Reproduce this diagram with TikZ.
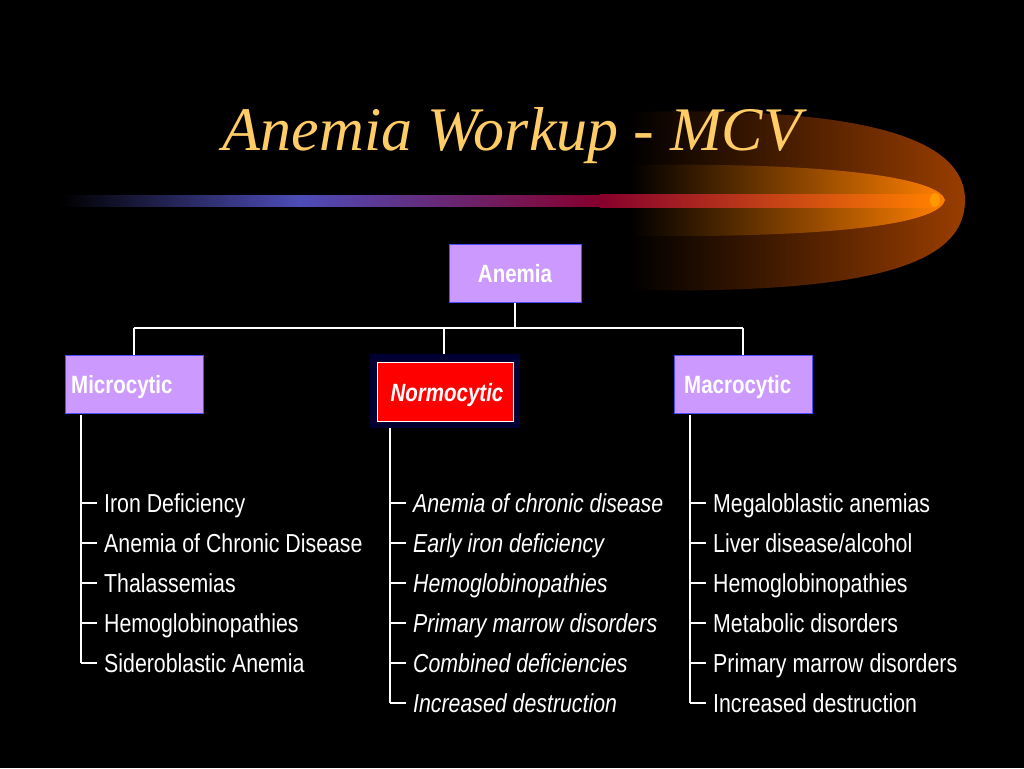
\documentclass[tikz,border=0pt]{standalone}
\usepackage{fontspec}
\setmainfont{Liberation Serif}
\newfontfamily\narrow[FakeStretch=0.82]{Liberation Sans}
\usetikzlibrary{fadings}
\definecolor{boxpurple}{HTML}{CC99FF}
\definecolor{gold}{HTML}{FFCC66}
\begin{document}
\begin{tikzpicture}[x=1pt,y=-1pt,
  box/.style={draw=blue!70!white,line width=1pt,fill=boxpurple,inner sep=0pt},
  lbl/.style={text=white,font=\narrow\bfseries\fontsize{25}{30}\selectfont,inner sep=0pt,anchor=base west},
  item/.style={anchor=base west,text=white,inner sep=0pt},
  conn/.style={draw=white,line width=1.3pt}]
\fill[black] (0,0) rectangle (1024,768);
\useasboundingbox (0,0) rectangle (1024,768);
% glow
\shade[left color=black,right color=orange!80!red!60!black] (630,112) .. controls (900,105) and (965,150) .. (965,200) .. controls (965,255) and (900,295) .. (630,290) -- cycle;
\shade[left color=black,right color=orange] (630,165) .. controls (850,162) and (940,180) .. (945,200) .. controls (940,222) and (850,238) .. (630,236) -- cycle;
\shade[left color=black,right color=blue!60!black!70] (60,195) rectangle (300,206);
\shade[left color=blue!60!black!70,right color=purple!70!black] (300,195) rectangle (600,206);
\shade[left color=purple!70!black,right color=orange] (600,194) rectangle (935,207);
\fill[orange!80!yellow] (935,200) ellipse (5 and 7);
\node[text=gold,font=\itshape\fontsize{62}{70}\selectfont,anchor=base] (title) at (512,150) {Anemia Workup - MCV};
% boxes
\node[box,minimum width=132,minimum height=58] (anemia) at (515,273) {};
\node[lbl,anchor=base] at (515,282) {Anemia};
\node[box,minimum width=138,minimum height=58,anchor=north west] (micro) at (65,355) {};
\node[lbl] at (71,393) {Microcytic};
\node[box,minimum width=138,minimum height=58,anchor=north west] (macro) at (674,355) {};
\node[lbl] at (684,393) {Macrocytic};
\node[fill=blue!20!black,minimum width=150,minimum height=74,inner sep=0pt] (normo) at (445,391) {};
\node[fill=red,draw=white,line width=0.6pt,minimum width=136,minimum height=59,inner sep=0pt] (normoin) at (445,392) {};
\node[lbl,font=\narrow\bfseries\itshape\fontsize{25}{30}\selectfont,anchor=base] at (447,401) {Normocytic};
% tree
\coordinate (j) at (515,328);
\coordinate (jl) at (134,328);
\coordinate (jm) at (444,328);
\coordinate (jr) at (743,328);
\draw[conn] (anemia.south) -- (j);
\draw[conn] (jl) -- (jr);
\draw[conn] (jl) -- (jl|-micro.north);
\draw[conn] (jm) -- (jm|-normo.north);
\draw[conn] (jr) -- (jr|-macro.north);
% lists
\foreach \x/\top/\bot/\sty/\items in {
 81/415/663/\upshape/{Iron Deficiency,Anemia of Chronic Disease,Thalassemias,Hemoglobinopathies,Sideroblastic Anemia},
 390/428/703/\itshape/{Anemia of chronic disease,Early iron deficiency,Hemoglobinopathies,Primary marrow disorders,Combined deficiencies,Increased destruction},
 690/415/703/\upshape/{Megaloblastic anemias,Liver disease/alcohol,Hemoglobinopathies,Metabolic disorders,Primary marrow disorders,Increased destruction}}{
 \draw[conn] (\x,\top) -- (\x,\bot);
 \foreach \t [count=\i] in \items {
  \pgfmathsetmacro{\yy}{463+40*\i}
  \draw[conn] (\x,\yy) -- (\x+16,\yy);
  \node[item,font=\narrow\sty\fontsize{26}{30}\selectfont] at (\x+23,\yy+9) {\t};
 }
}
\end{tikzpicture}
\end{document}
